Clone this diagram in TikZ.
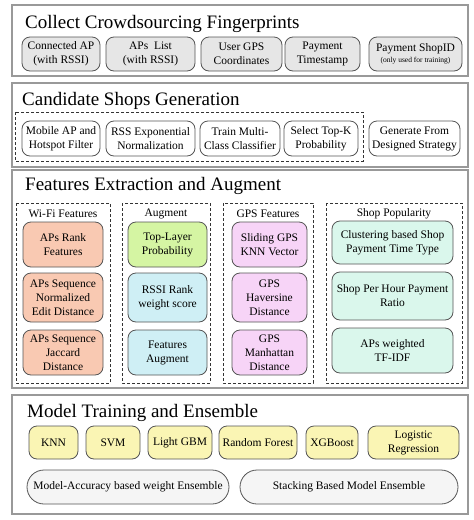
\documentclass[tikz,border=0pt]{standalone}
\usepackage{fontspec}
\setmainfont{Liberation Serif}
\definecolor{secline}{HTML}{999999}
\definecolor{nodeline}{HTML}{555555}
\definecolor{cgray}{HTML}{E6E6E6}
\definecolor{cwifi}{HTML}{F9C9B2}
\definecolor{cgreen}{HTML}{D5F5A3}
\definecolor{cblue}{HTML}{CFEFF5}
\definecolor{cpink}{HTML}{F7D4F7}
\definecolor{cmint}{HTML}{DAF7EC}
\definecolor{cyellow}{HTML}{FAF5B4}
\definecolor{clight}{HTML}{F5F5F5}
\newcommand\bx[7]{\node[#6, minimum width={(#4-#2)*1pt}, minimum height={(#5-#3)*1pt}] (#1) at ({(#2+#4)/2},{(#3+#5)/2}) {#7};}
\tikzset{
  secbox/.style={draw=secline, line width=1.3pt, fill=white},
  dbox/.style={draw=black!80, line width=0.8pt, dash pattern=on 3pt off 2pt},
  rbox/.style={draw=nodeline, line width=0.8pt, rounded corners=8pt, inner sep=0pt, align=center, font=\rmfamily\fontsize{11.5}{14}\selectfont},
  stad/.style={draw=nodeline, line width=0.8pt, rounded corners=17pt, inner sep=0pt, align=center, fill=clight, font=\rmfamily\fontsize{11.5}{14}\selectfont},
  ttl/.style={anchor=base west, inner sep=0pt, font=\rmfamily\fontsize{19}{22}\selectfont},
  lbl/.style={inner sep=0pt, font=\rmfamily\fontsize{11.5}{14}\selectfont},
}
\begin{document}
\begin{tikzpicture}[x=1pt,y=-1pt]
\useasboundingbox (0,0) rectangle (474,520);
% Section 1
\draw[secbox] (12,5) rectangle (468,76);
\node[ttl] (t1) at (25,28) {Collect Crowdsourcing Fingerprints};
\bx{c1}{22}{37}{100}{71}{rbox,fill=cgray}{Connected AP\\(with RSSI)}
\bx{c2}{106}{37}{195}{71}{rbox,fill=cgray}{APs\ \ List\\(with RSSI)}
\bx{c3}{201}{37}{282}{71}{rbox,fill=cgray}{User GPS\\Coordinates}
\bx{c4}{285}{37}{360}{71}{rbox,fill=cgray}{Payment\\Timestamp}
\bx{c5}{369}{37}{462}{71}{rbox,fill=cgray}{Payment ShopID\\[-3pt]{\fontsize{7.5}{9}\selectfont (only used for training)}}
% Section 2
\draw[secbox] (12,83) rectangle (468,167);
\node[ttl] (t2) at (22,105) {Candidate Shops Generation};
\draw[dbox] (15,112) rectangle (363,161);
\bx{d1}{22}{121}{100}{156}{rbox,fill=white}{Mobile AP and\\Hotspot Filter}
\bx{d2}{106}{121}{195}{156}{rbox,fill=white}{RSS Exponential\\Normalization}
\bx{d3}{200}{121}{280}{156}{rbox,fill=white}{Train Multi-\\Class Classifier}
\bx{d4}{284}{121}{358}{156}{rbox,fill=white}{Select Top-K\\Probability}
\bx{d5}{369}{121}{460}{156}{rbox,fill=white}{Generate From\\Designed Strategy}
% Section 3
\draw[secbox] (12,170) rectangle (468,388);
\node[ttl] (t3) at (25,190) {Features Extraction and Augment};
\draw[dbox] (16,203) rectangle (110,383);
\draw[dbox] (122,203) rectangle (210,383);
\draw[dbox] (223,203) rectangle (313,383);
\draw[dbox] (326,203) rectangle (462,383);
\node[lbl] (lw) at (63,214) {Wi-Fi Features};
\node[lbl] (la) at (166,214) {Augment};
\node[lbl] (lg) at (268,214) {GPS Features};
\node[lbl] (ls) at (394,214) {Shop Popularity};
\bx{w1}{23}{222}{103}{267}{rbox,fill=cwifi}{APs Rank\\Features}
\bx{w2}{23}{273}{103}{322}{rbox,fill=cwifi}{APs Sequence\\Normalized\\Edit Distance}
\bx{w3}{23}{330}{103}{375}{rbox,fill=cwifi}{APs Sequence\\Jaccard\\Distance}
\bx{a1}{128}{222}{207}{267}{rbox,fill=cgreen}{Top-Layer\\Probability}
\bx{a2}{128}{273}{207}{322}{rbox,fill=cblue}{RSSI Rank\\weight score}
\bx{a3}{128}{330}{207}{375}{rbox,fill=cblue}{Features\\Augment}
\bx{g1}{232}{222}{307}{267}{rbox,fill=cpink}{Sliding GPS\\KNN Vector}
\bx{g2}{232}{273}{307}{322}{rbox,fill=cpink}{GPS\\Haversine\\Distance}
\bx{g3}{232}{330}{307}{375}{rbox,fill=cpink}{GPS\\Manhattan\\Distance}
\bx{s1}{332}{221}{453}{264}{rbox,fill=cmint}{Clustering based Shop\\Payment Time Type}
\bx{s2}{332}{272}{453}{320}{rbox,fill=cmint}{Shop Per Hour Payment\\Ratio}
\bx{s3}{332}{328}{453}{373}{rbox,fill=cmint}{APs weighted\\TF-IDF}
% Section 4
\draw[secbox] (12,395) rectangle (468,514);
\node[ttl] (t4) at (27,417) {Model Training and Ensemble};
\bx{m1}{29}{426}{78}{459}{rbox,fill=cyellow}{KNN}
\bx{m2}{86}{426}{140}{459}{rbox,fill=cyellow}{SVM}
\bx{m3}{148}{426}{212}{459}{rbox,fill=cyellow}{Light GBM}
\bx{m4}{219}{426}{297}{459}{rbox,fill=cyellow}{Random Forest}
\bx{m5}{306}{426}{358}{459}{rbox,fill=cyellow}{XGBoost}
\bx{m6}{368}{426}{459}{459}{rbox,fill=cyellow}{Logistic\\Regression}
\bx{e1}{27}{470}{229}{504}{stad}{Model-Accuracy based weight Ensemble}
\bx{e2}{240}{470}{458}{504}{stad}{Stacking Based Model Ensemble}
\end{tikzpicture}
\end{document}
